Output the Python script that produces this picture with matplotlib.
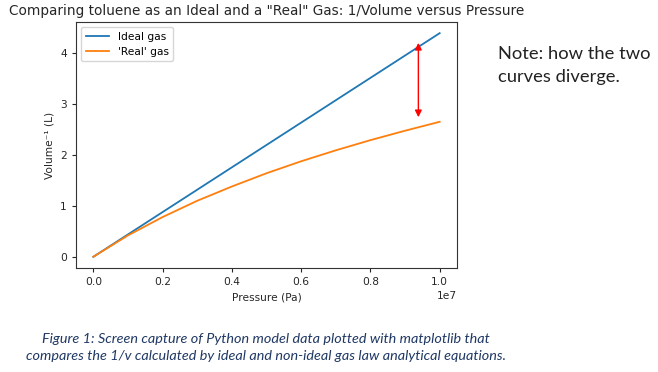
import numpy as np
import matplotlib
matplotlib.use("Agg")
import matplotlib.pyplot as plt

# pressure (Pa) and 1/V
pressure = np.array([0.0, 0.1, 0.2, 0.3, 0.4, 0.5, 0.6, 0.7, 0.8, 0.9, 1.0]) * 1e7
ideal = [0.0, 0.439, 0.878, 1.317, 1.756, 2.195, 2.634, 3.073, 3.512, 3.951, 4.39]
real = [0.0, 0.42, 0.78, 1.10, 1.38, 1.64, 1.875, 2.09, 2.29, 2.475, 2.65]
labels = ["Ideal gas", "'Real' gas"]

arrow_p = 0.9385e7
arrow_top, arrow_bot = 4.2, 2.74

fs = 7.7
fig = plt.figure(figsize=(6.58, 3.72), dpi=100)
ax = fig.add_axes([0.1155, 0.2796, 0.579, 0.6613])
ax.plot(pressure, ideal, label=labels[0], color="#1f77b4", lw=1.3)
ax.plot(pressure, real, label=labels[1], color="#ff7f0e", lw=1.3)
ax.annotate("", xy=(arrow_p, arrow_top), xytext=(arrow_p, arrow_bot),
            arrowprops=dict(arrowstyle="<|-|>", color="red", lw=1,
                            mutation_scale=10, shrinkA=0, shrinkB=0))
ax.set_title('Comparing toluene as an Ideal and a "Real" Gas: 1/Volume versus Pressure',
             fontsize=9.8, color="#262626", pad=5)
ax.set_xlabel("Pressure (Pa)", fontsize=fs, color="#262626")
ax.set_ylabel("Volume\u207b\u00b9 (L)", fontsize=fs, color="#262626")
ax.tick_params(labelsize=fs, colors="#262626", length=3)
ax.xaxis.get_offset_text().set_fontsize(fs)
ax.legend(loc="upper left", fontsize=fs, handlelength=2.2)
for s in ax.spines.values():
    s.set_color("#333333")

fig.text(0.757, 0.823, "Note: how the two\ncurves diverge.", fontsize=13.2,
         family="Lato", color="#222222", va="center", linespacing=1.55)
fig.text(0.4035, 0.066,
         "Figure 1: Screen capture of Python model data plotted with matplotlib that\n"
         "compares the 1/v calculated by ideal and non-ideal gas law analytical equations.",
         fontsize=10.4, family="Lato", style="italic", color="#1f3864",
         ha="center", va="center", linespacing=1.55)

fig.savefig("out.png", dpi=100)
